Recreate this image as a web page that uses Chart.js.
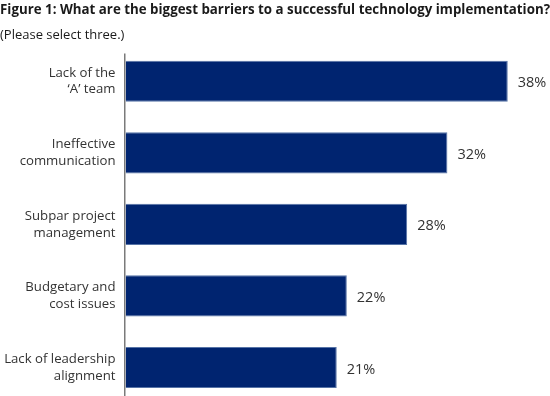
<!DOCTYPE html>
<html>
<head>
<meta charset="utf-8">
<script src="https://cdn.jsdelivr.net/npm/chart.js@4/dist/chart.umd.min.js"></script>
<style>
  html, body { margin: 0; padding: 0; background: #fff; overflow: hidden; }
  #wrap { position: relative; width: 550px; height: 430px; }
</style>
</head>
<body>
<div id="wrap"><canvas id="c"></canvas></div>
<script>
const categories = [
  ["Lack of the", "\u2018A\u2019 team"],
  ["Ineffective", "communication"],
  ["Subpar project", "management"],
  ["Budgetary and", "cost issues"],
  ["Lack of leadership", "alignment"]
];
const values = [38, 32, 28, 22, 21];
const titleText = "Figure 1: What are the biggest barriers to a successful technology implementation?";
const subtitleText = "(Please select three.)";

const FONT = "'Open Sans', 'Noto Sans', sans-serif";

const valueLabels = {
  id: 'valueLabels',
  afterDatasetsDraw(chart) {
    const ctx = chart.ctx;
    const meta = chart.getDatasetMeta(0);
    ctx.save();
    ctx.font = "14.5px " + FONT;
    ctx.fillStyle = '#333333';
    ctx.textAlign = 'left';
    ctx.textBaseline = 'middle';
    meta.data.forEach((bar, i) => {
      ctx.fillText(values[i] + '%', bar.x + 10, bar.y + 2);
    });
    ctx.restore();
  }
};

const axisLine = {
  id: 'axisLine',
  afterDatasetsDraw(chart) {
    const ctx = chart.ctx;
    const x = chart.scales.x.getPixelForValue(0);
    ctx.save();
    ctx.strokeStyle = '#7a7a7a';
    ctx.lineWidth = 1.5;
    ctx.beginPath();
    ctx.moveTo(x - 0.75, chart.chartArea.top + 8);
    ctx.lineTo(x - 0.75, chart.chartArea.bottom);
    ctx.stroke();
    ctx.restore();
  }
};

new Chart(document.getElementById('c'), {
  type: 'bar',
  data: {
    labels: categories,
    datasets: [{
      data: values,
      backgroundColor: '#002470',
      borderColor: '#5673a6',
      borderWidth: 1,
      borderSkipped: 'left',
      categoryPercentage: 1,
      barPercentage: 0.575
    }]
  },
  options: {
    indexAxis: 'y',
    responsive: true,
    maintainAspectRatio: false,
    animation: false,
    layout: { padding: 0 },
    plugins: {
      legend: { display: false },
      tooltip: { enabled: false },
      title: {
        display: true,
        text: titleText,
        align: 'start',
        color: '#1a1a1a',
        font: { family: FONT, size: 13.5, weight: 'bold', lineHeight: 1.2 },
        padding: { top: 2, bottom: 9 }
      },
      subtitle: {
        display: true,
        text: subtitleText,
        align: 'start',
        color: '#1a1a1a',
        font: { family: FONT, size: 13, lineHeight: 1.2 },
        padding: { top: 0, bottom: 2.7 }
      }
    },
    scales: {
      x: {
        display: false,
        min: 0,
        max: 42.2
      },
      y: {
        afterFit(scale) { scale.width = 125.5; },
        grid: { display: false, drawTicks: false },
        border: { display: false },
        ticks: {
          color: '#333333',
          padding: 10,
          font: { family: FONT, size: 13.2, lineHeight: 1.27 }
        }
      }
    }
  },
  plugins: [valueLabels, axisLine]
});
</script>
</body>
</html>
